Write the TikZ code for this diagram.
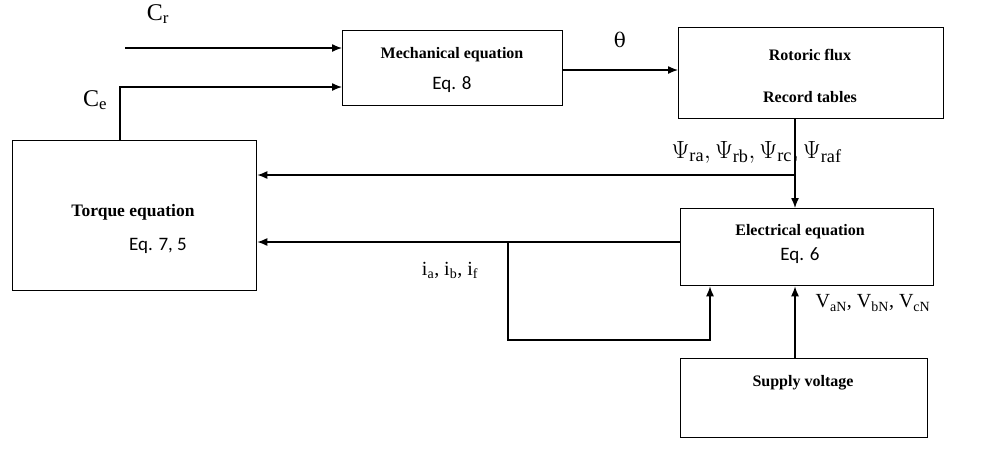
\documentclass[tikz,border=0pt]{standalone}
\usepackage{fontspec}
\setmainfont{Liberation Serif}
\newfontfamily\eqf{Carlito}
\newfontfamily\grk{DejaVu Serif}
\usetikzlibrary{arrows.meta}
\begin{document}
\begin{tikzpicture}[x=1pt,y=-1pt,
  blk/.style={draw,line width=1.3pt,anchor=north west,inner sep=0pt},
  ttl/.style={font=\bfseries\fontsize{16}{18}\selectfont},
  eqt/.style={font=\eqf\fontsize{19}{21}\selectfont},
  lbl/.style={font=\fontsize{24}{26}\selectfont},
  ln/.style={line width=1.3pt},
  arr/.style={ln,-{Latex[length=10pt,width=8pt]}}]
\useasboundingbox (0,0) rectangle (984,459);
\node[blk,minimum width=220pt,minimum height=75pt] (mech) at (342,30) {};
\node[blk,minimum width=265pt,minimum height=91pt] (rot) at (678,27) {};
\node[blk,minimum width=244pt,minimum height=150pt] (tor) at (12,140) {};
\node[blk,minimum width=253pt,minimum height=77pt] (ele) at (680,208) {};
\node[blk,minimum width=247pt,minimum height=79pt] (sup) at (680,358) {};
\node[ttl] (t1) at (452,55) {Mechanical equation};
\node[eqt] (e1) at (452,85) {Eq. 8};
\node[ttl] (t2) at (810,55) {Rotoric flux};
\node[ttl] (t3) at (810,97) {Record tables};
\node[ttl,font=\bfseries\fontsize{17.5}{19}\selectfont] (t4) at (133,212) {Torque equation};
\node[eqt] (e4) at (158,246) {Eq. 7, 5};
\node[ttl] (t5) at (800,232) {Electrical equation};
\node[eqt] (e5) at (800,256) {Eq. 6};
\node[ttl] (t6) at (803,383) {Supply voltage};
\coordinate (cr0) at (125,48);
\draw[arr] (cr0) -- (cr0 -| mech.west);
\node[lbl] (cr) at (158,14) {C$_\mathrm{r}$};
\coordinate (ce0) at (120,87);
\draw[arr] (tor.north -| ce0) -- (ce0) -- (ce0 -| mech.west);
\node[lbl] (ce) at (95,100) {C$_\mathrm{e}$};
\draw[arr] (mech.east |- 0,70) -- (rot.west |- 0,70);
\node[lbl,font=\grk\fontsize{20}{22}\selectfont] (th) at (620,40) {θ};
\coordinate (rx) at (795,118);
\draw[arr] (rx) -- (rx |- ele.north);
\node[lbl,anchor=west,font=\fontsize{26}{28}\selectfont] (psi) at (668,152) {$\Psi_{\mathrm{ra}}, \Psi_{\mathrm{rb}}, \Psi_{\mathrm{rc}}, \Psi_{\mathrm{raf}}$};
\coordinate (pj) at (795,175);
\draw[arr] (pj) -- (pj -| tor.east);
\coordinate (ej) at (680,242);
\draw[arr] (ej) -- (ej -| tor.east);
\coordinate (fb1) at (508,242);
\coordinate (fb2) at (508,340);
\coordinate (fb3) at (710,340);
\draw[arr] (fb1) -- (fb2) -- (fb3) -- (fb3 |- ele.south);
\node[lbl,font=\fontsize{20}{22}\selectfont] (il) at (450,270) {i$_\mathrm{a}$, i$_\mathrm{b}$, i$_\mathrm{f}$};
\coordinate (sx) at (795,358);
\draw[arr] (sx) -- (sx |- ele.south);
\node[lbl,font=\fontsize{20}{22}\selectfont] (vl) at (873,303) {V$_\mathrm{aN}$, V$_\mathrm{bN}$, V$_\mathrm{cN}$};
\end{tikzpicture}
\end{document}
